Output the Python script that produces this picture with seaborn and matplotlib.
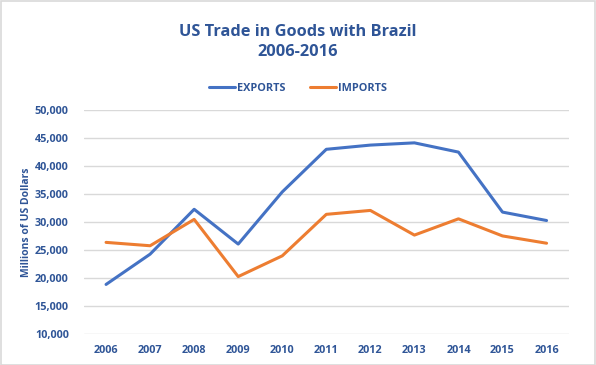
import matplotlib
matplotlib.use("Agg")
import matplotlib.pyplot as plt
import seaborn as sns
import pandas as pd
from matplotlib.ticker import FuncFormatter, MultipleLocator
from matplotlib.lines import Line2D

years = [2006, 2007, 2008, 2009, 2010, 2011, 2012, 2013, 2014, 2015, 2016]
exports = [18900, 24300, 32300, 26100, 35400, 43000, 43750, 44150, 42500, 31800, 30300]
imports = [26400, 25800, 30500, 20300, 24000, 31400, 32100, 27700, 30600, 27550, 26250]
series_names = ["EXPORTS", "IMPORTS"]
title_text = "US Trade in Goods with Brazil\n2006-2016"
ylabel_text = "Millions of US Dollars"

df = pd.DataFrame({
    "year": years * 2,
    "value": exports + imports,
    "series": [series_names[0]] * len(years) + [series_names[1]] * len(years),
})

sns.set_theme(style="white")
plt.rcParams["font.family"] = ["Open Sans", "DejaVu Sans"]
txt = "#2F5597"

fig = plt.figure(figsize=(5.96, 3.65), dpi=100)
ax = fig.add_axes([0.141, 0.084, 0.813, 0.6145])
palette = {"EXPORTS": "#4472C4", "IMPORTS": "#ED7D31"}
sns.lineplot(data=df, x="year", y="value", hue="series", palette=palette,
             linewidth=2.2, ax=ax, legend=False)

ax.set_xlim(2005.5, 2016.5)
ax.set_ylim(10000, 50000)
ax.yaxis.set_major_locator(MultipleLocator(5000))
ax.set_xticks(years)
ax.set_xticklabels([str(y) for y in years])
ax.yaxis.set_major_formatter(FuncFormatter(lambda v, p: f"{int(v):,}"))
ax.grid(axis="y", color="#D9D9D9", linewidth=1)
ax.grid(axis="x", visible=False)
for s in ax.spines.values():
    s.set_visible(False)
ax.tick_params(axis="both", length=0, labelsize=7.8, labelcolor=txt)
for lab in ax.get_xticklabels() + ax.get_yticklabels():
    lab.set_fontweight("bold")
ax.tick_params(axis="y", pad=11)
ax.tick_params(axis="x", pad=8)
ax.set_xlabel("")
ax.set_ylabel(ylabel_text, color=txt, fontsize=7.5, fontweight="bold")
ax.yaxis.set_label_coords(-0.108, 0.5)

fig.text(0.5, 0.885, title_text, ha="center", va="center", fontsize=11.8,
         fontweight="bold", color=txt, linespacing=1.3)

handles = [Line2D([], [], color=palette[n], linewidth=2.2) for n in series_names]
leg = fig.legend(handles, series_names, loc="center", bbox_to_anchor=(0.5, 0.758),
                 ncol=2, frameon=False, fontsize=7.8,
                 handlelength=2.4, handletextpad=0.25, columnspacing=2.2)
for t in leg.get_texts():
    t.set_color(txt)
    t.set_fontweight("bold")

fig.patches.append(plt.Rectangle((0.001, 0.001), 0.997, 0.996, transform=fig.transFigure,
                                 fill=False, edgecolor="#D9D9D9", linewidth=1.2))
fig.savefig("out.png", dpi=100)
